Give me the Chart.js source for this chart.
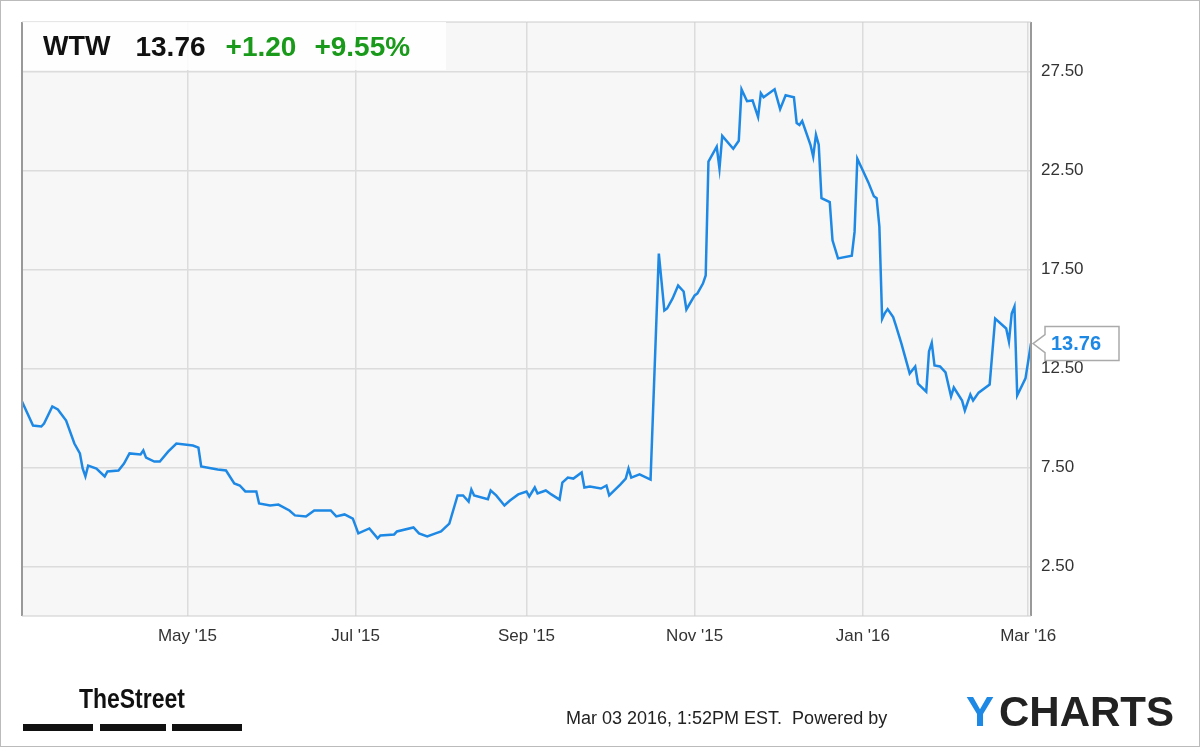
<!DOCTYPE html>
<html>
<head>
<meta charset="utf-8">
<script src="https://cdn.jsdelivr.net/npm/chart.js@4/dist/chart.umd.min.js"></script>
<style>
  html, body { margin: 0; padding: 0; background: #fff; }
  #wrap { position: relative; width: 1200px; height: 747px; box-sizing: border-box; border: 1px solid #bbb; }
  canvas { display: block; }
</style>
</head>
<body>
<div id="wrap"><canvas id="chart" width="1198" height="745"></canvas></div>
<script>
// days since Mar 2 2015
const days = [0,4,7,8,11,13,16,19,21,22,23,24,27,30,31,35,37,39,43,44,45,48,50,53,56,62,64,65,69,71,74,77,79,81,85,86,90,93,97,99,103,106,112,114,117,120,122,126,129,130,135,136,142,144,147,150,152,155,158,160,162,163,164,169,170,172,175,177,180,183,184,186,187,190,192,195,196,198,200,203,204,206,210,212,213,217,219,220,221,224,228,231,233,234,236,238,240,241,244,245,247,248,249,252,253,254,258,260,261,263,265,267,268,269,273,275,277,280,281,282,283,286,287,288,289,290,293,294,296,301,302,303,305,307,309,310,311,312,313,314,316,317,319,322,324,325,328,329,330,331,333,335,337,338,341,342,344,345,347,351,353,357,358,359,360,361,364,366];
const prices = [10.83,9.62,9.57,9.72,10.58,10.43,9.87,8.71,8.21,7.45,7.05,7.6,7.45,7.05,7.3,7.35,7.7,8.21,8.16,8.36,8.0,7.8,7.8,8.3,8.71,8.61,8.5,7.55,7.45,7.4,7.35,6.69,6.59,6.29,6.29,5.68,5.58,5.63,5.33,5.08,5.03,5.33,5.33,5.03,5.13,4.92,4.17,4.42,3.92,4.07,4.12,4.27,4.47,4.17,4.02,4.17,4.27,4.67,6.09,6.09,5.78,6.39,6.09,5.9,6.34,6.09,5.58,5.83,6.14,6.29,6.04,6.49,6.19,6.34,6.14,5.88,6.74,6.99,6.94,7.25,6.49,6.54,6.44,6.59,6.09,6.64,6.94,7.45,6.99,7.15,6.89,18.3,15.43,15.53,16.04,16.69,16.39,15.48,16.19,16.29,16.79,17.2,22.95,23.7,22.6,24.25,23.6,24.0,26.6,26.0,26.04,25.2,26.4,26.2,26.6,25.6,26.3,26.2,24.9,24.8,25.0,23.8,23.2,24.3,23.8,21.1,20.9,18.97,18.06,18.2,19.4,23.1,22.5,21.9,21.2,21.1,19.67,15.0,15.3,15.5,15.1,14.67,13.76,12.25,12.6,11.74,11.33,13.36,13.8,12.65,12.6,12.3,11.09,11.54,10.88,10.38,11.18,10.88,11.28,11.69,15.02,14.52,13.86,15.28,15.63,11.14,12.0,13.76];
const xTickDays = [60,121,183,244,305,365];
const xTickLabels = ["May '15","Jul '15","Sep '15","Nov '15","Jan '16","Mar '16"];
const yTicks = [2.5,7.5,12.5,17.5,22.5,27.5];
const ticker = "WTW", last = "13.76", change = "+1.20", changePct = "+9.55%";

const font = "Liberation Sans, Arial, sans-serif";

const overlay = {
  id: "overlay",
  beforeDraw(chart) {
    const { ctx, chartArea: a } = chart;
    ctx.save();
    ctx.fillStyle = "#f7f7f7";
    ctx.fillRect(a.left, a.top, a.right - a.left, a.bottom - a.top);
    ctx.restore();
  },
  afterDraw(chart) {
    const { ctx, chartArea: a, scales } = chart;
    ctx.save();
    // frame
    ctx.strokeStyle = "#999"; ctx.lineWidth = 2;
    ctx.beginPath();
    ctx.moveTo(a.left, a.top); ctx.lineTo(a.left, a.bottom);
    ctx.moveTo(a.right, a.top); ctx.lineTo(a.right, a.bottom);
    ctx.stroke();
    ctx.strokeStyle = "#ccc"; ctx.lineWidth = 1;
    ctx.beginPath(); ctx.moveTo(a.left, a.top); ctx.lineTo(a.right, a.top);
    ctx.moveTo(a.left, a.bottom); ctx.lineTo(a.right, a.bottom); ctx.stroke();
    // title box
    ctx.fillStyle = "rgba(255,255,255,0.85)";
    ctx.fillRect(a.left + 1, a.top, 423, 48);
    ctx.font = "bold 27px " + font; ctx.textBaseline = "middle";
    let x = a.left + 21, y = a.top + 26;
    ctx.fillStyle = "#111"; ctx.fillText(ticker, x, y); x += ctx.measureText(ticker).width + 25;
    ctx.font = "bold 28px " + font;
    ctx.fillText(last, x, y); x += ctx.measureText(last).width + 20;
    ctx.fillStyle = "#1a9a1a"; ctx.fillText(change, x, y); x += ctx.measureText(change).width + 18;
    ctx.fillText(changePct, x, y);
    // last value tag
    const ly = scales.y.getPixelForValue(prices[prices.length - 1]);
    const bx = a.right + 14;
    ctx.fillStyle = "#fff"; ctx.strokeStyle = "#aaa"; ctx.lineWidth = 1.5;
    ctx.beginPath();
    ctx.moveTo(a.right + 2, ly); ctx.lineTo(bx, ly - 9); ctx.lineTo(bx, ly - 17);
    ctx.lineTo(bx + 74, ly - 17); ctx.lineTo(bx + 74, ly + 17); ctx.lineTo(bx, ly + 17);
    ctx.lineTo(bx, ly + 9); ctx.closePath(); ctx.fill(); ctx.stroke();
    ctx.fillStyle = "#1e88e5"; ctx.font = "bold 20px " + font; ctx.textAlign = "left";
    ctx.fillText(last, bx + 6, ly + 1);
    // footer
    ctx.fillStyle = "#111"; ctx.font = "bold 27px " + font;
    ctx.save(); ctx.scale(0.85, 1); ctx.fillText("TheStreet", 78 / 0.85, 700); ctx.restore();
    ctx.fillRect(22, 723, 70, 7); ctx.fillRect(99, 723, 66, 7); ctx.fillRect(171, 723, 70, 7);
    ctx.font = "18px " + font; ctx.fillStyle = "#222";
    ctx.fillText("Mar 03 2016, 1:52PM EST.  Powered by", 565, 718);
    ctx.font = "bold 42px " + font; ctx.fillStyle = "#1e88e5";
    ctx.fillText("Y", 965, 713);
    ctx.fillStyle = "#222"; ctx.fillText("CHARTS", 998, 713);
    ctx.restore();
  }
};

new Chart(document.getElementById("chart"), {
  type: "line",
  data: {
    datasets: [{
      data: days.map((d, i) => ({ x: d, y: prices[i] })),
      borderColor: "#1e88e5",
      borderWidth: 2.5,
      pointRadius: 0,
      tension: 0
    }]
  },
  options: {
    responsive: false,
    animation: false,
    layout: { padding: { left: 21, top: 21, right: 0, bottom: 0 } },
    plugins: { legend: { display: false }, tooltip: { enabled: false } },
    scales: {
      x: {
        type: "linear", min: 0, max: 366,
        afterBuildTicks: s => { s.ticks = xTickDays.map(v => ({ value: v })); },
        ticks: {
          autoSkip: false, maxRotation: 0, padding: 10,
          color: "#333", font: { family: font, size: 17 },
          callback: (v) => xTickLabels[xTickDays.indexOf(v)]
        },
        grid: { color: "#dcdcdc", lineWidth: 1.5, drawTicks: false },
        border: { display: false },
        afterFit: s => { s.height = 130; }
      },
      y: {
        position: "right", min: 0, max: 30,
        afterBuildTicks: s => { s.ticks = yTicks.map(v => ({ value: v })); },
        ticks: {
          color: "#333", font: { family: font, size: 17 }, padding: 10,
          callback: v => v.toFixed(2)
        },
        grid: { color: "#dcdcdc", lineWidth: 1.5, drawTicks: false },
        border: { display: false },
        afterFit: s => { s.width = 168; }
      }
    }
  },
  plugins: [overlay]
});
</script>
</body>
</html>
